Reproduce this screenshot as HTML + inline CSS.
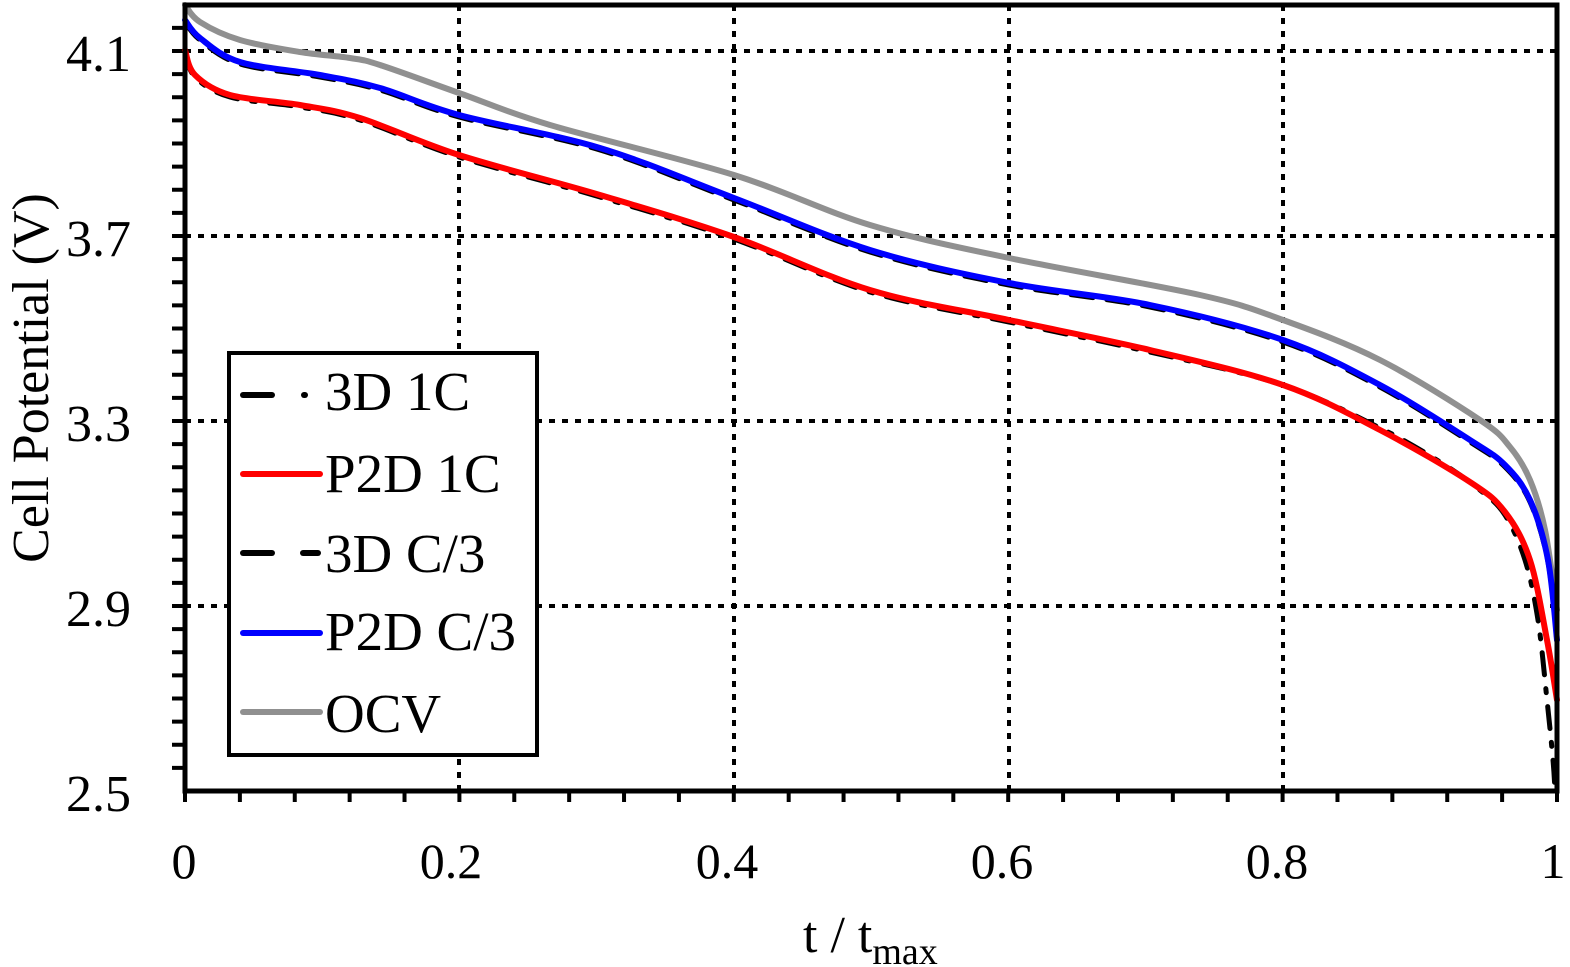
<!DOCTYPE html><html><head><style>body{margin:0;background:#fff}svg{display:block}text{font-family:"Liberation Serif",serif;fill:#000}</style></head><body>
<svg width="1570" height="967" viewBox="0 0 1570 967">
<g stroke="#000" stroke-width="4" stroke-dasharray="6,7">
<line x1="459" y1="5" x2="459" y2="791"/><line x1="734" y1="5" x2="734" y2="791"/><line x1="1009" y1="5" x2="1009" y2="791"/><line x1="1283" y1="5" x2="1283" y2="791"/>
<line x1="185" y1="51" x2="1557" y2="51"/><line x1="185" y1="236" x2="1557" y2="236"/><line x1="185" y1="421" x2="1557" y2="421"/><line x1="185" y1="606" x2="1557" y2="606"/>
</g>
<g id="ticks" stroke="#000" stroke-width="4"></g>
<g fill="none" stroke-width="6" stroke-linejoin="round" stroke-linecap="round">
<path id="ocv" stroke="#909090"/>
<path id="d3c3" stroke="#000" stroke-dasharray="22,14" stroke-width="5"/>
<path id="blue" stroke="#0000ff"/>
<path id="d31c" stroke="#000" stroke-dasharray="22,14,4,14" stroke-width="5"/>
<path id="red" stroke="#ff0000"/>
</g>
<rect x="185" y="5" width="1372" height="786" fill="none" stroke="#000" stroke-width="5"/>
<g font-size="52" text-anchor="end">
<text x="131" y="71">4.1</text><text x="131" y="256">3.7</text><text x="131" y="441">3.3</text><text x="131" y="626">2.9</text><text x="131" y="811">2.5</text></g>
<g font-size="50" text-anchor="middle">
<text x="184" y="878">0</text><text x="451" y="878">0.2</text><text x="727" y="878">0.4</text><text x="1002" y="878">0.6</text><text x="1277" y="878">0.8</text><text x="1553" y="878">1</text>
<text transform="translate(48,378) rotate(-90)" font-size="52">Cell Potential (V)</text></g>
<text x="803" y="952" font-size="52">t / t<tspan font-size="38" dy="12">max</tspan></text>
<rect x="229" y="353" width="308" height="402" fill="#fff" stroke="#000" stroke-width="4"/>
<g stroke-width="6" fill="none" stroke-linecap="round">
<line x1="243" y1="395" x2="272" y2="395" stroke="#000"/><line x1="304" y1="395" x2="305" y2="395" stroke="#000"/>
<line x1="243" y1="474" x2="320" y2="474" stroke="#ff0000"/>
<line x1="243" y1="553" x2="272" y2="553" stroke="#000"/><line x1="303" y1="553" x2="318" y2="553" stroke="#000"/>
<line x1="243" y1="633" x2="320" y2="633" stroke="#0000ff"/>
<line x1="243" y1="712" x2="320" y2="712" stroke="#909090"/></g>
<g font-size="55"><text x="325" y="410">3D 1C</text><text x="325" y="492">P2D 1C</text><text x="325" y="572">3D C/3</text><text x="325" y="650">P2D C/3</text><text x="325" y="732">OCV</text></g>
</svg>
<script>
var g=document.getElementById('ticks'),s='';
for(var i=1;i<34;i++){var y=791-i*23.125;s+='<line x1="172" y1="'+y+'" x2="185" y2="'+y+'"/>';}
for(var j=0;j<=25;j++){var x=185+j*54.88;s+='<line x1="'+x+'" y1="791" x2="'+x+'" y2="802"/>';}
g.innerHTML=s;
function sm(p){var d='M'+p[0][0]+','+p[0][1];for(var i=0;i<p.length-1;i++){var a=p[i-1]||p[i],b=p[i],c=p[i+1],e=p[i+2]||c;d+=' C'+(b[0]+(c[0]-a[0])/6)+','+(b[1]+(c[1]-a[1])/6)+' '+(c[0]-(e[0]-b[0])/6)+','+(c[1]-(e[1]-b[1])/6)+' '+c[0]+','+c[1];}return d;}
var P={
ocv:[[185,5],[200,22],[240,40],[300,52],[350,58],[380,65],[459,93],[550,125],[734,175],[870,225],[1009,258],[1200,295],[1283,320],[1380,360],[1480,420],[1510,447],[1530,480],[1545,530],[1557,610]],
blue:[[185,20],[200,38],[240,62],[320,75],[380,88],[459,115],[600,148],[734,198],[870,250],[1009,283],[1150,305],[1283,340],[1380,385],[1470,440],[1505,465],[1530,500],[1548,560],[1557,640]],
red:[[185,50],[195,75],[230,95],[300,105],[360,118],[459,155],[600,195],[734,237],[870,290],[1009,320],[1150,350],[1283,385],[1380,430],[1470,482],[1505,512],[1530,560],[1547,640],[1557,700]],
d31c:[[185,52],[195,77],[230,97],[300,107],[360,120],[459,157],[600,197],[734,239],[870,292],[1009,322],[1150,352],[1283,385],[1380,428],[1440,462],[1480,490],[1505,515],[1525,560],[1538,620],[1547,700],[1553,760],[1555,791]]};
P.d3c3=P.blue.map(function(q){return [q[0],q[1]+2];});
for(var k in P)document.getElementById(k).setAttribute('d',sm(P[k]));
</script>
</body></html>
